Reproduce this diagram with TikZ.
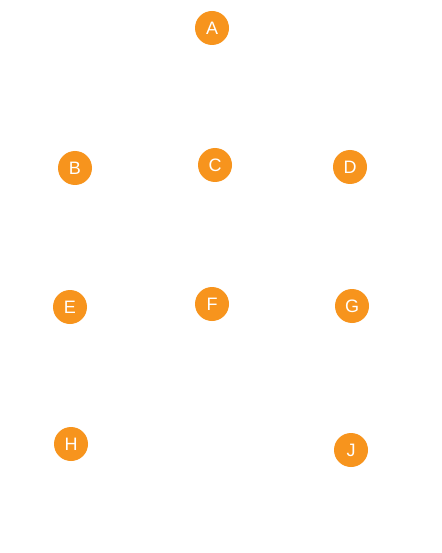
\documentclass[tikz,border=0pt]{standalone}
\usepackage{fontspec}
\setmainfont{Liberation Sans}
\usepackage{tikz}
\usetikzlibrary{shapes}
\definecolor{vorange}{HTML}{F7941D}
\tikzstyle{vertex}=[circle,fill=vorange,text=white,minimum size=34pt,inner sep=0pt,font=\fontsize{18}{18}\selectfont]

\begin{document}
\begin{tikzpicture}[x=1pt,y=-1pt]
        \useasboundingbox[fill=white] (0,0) rectangle (441,553);
        \node[vertex] (a) at (212,28) {A};
        \node[vertex] (b) at (75,168) {B};
        \node[vertex] (c) at (215,165) {C};
        \node[vertex] (d) at (350,167) {D};
        \node[vertex] (e) at (70,307) {E};
        \node[vertex] (f) at (212,304) {F};
        \node[vertex] (g) at (352,306) {G};
        \node[vertex] (h) at (71,444) {H};
        \node[vertex] (j) at (351,450) {J};
      \end{tikzpicture}
\end{document}
